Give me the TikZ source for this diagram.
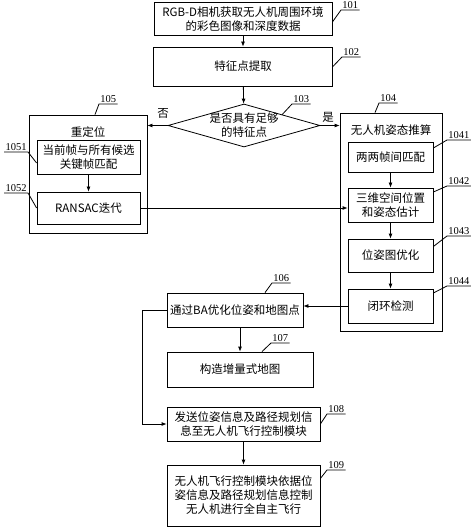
\documentclass[tikz,border=0pt]{standalone}
\usepackage{fontspec}
\setmainfont{Liberation Serif}
\newfontfamily\cjk{Noto Sans CJK SC}
\usetikzlibrary{shapes.geometric,arrows.meta}

\begin{document}
\begin{tikzpicture}[x = 1pt, y = -1pt, line width = 0.8pt,
    box/.style = {draw, inner sep = 0pt, align = center, font = \cjk\fontsize{11.5}{14}\selectfont},
    txt/.style = {inner sep = 0pt, align = center, font = \cjk\fontsize{11.5}{14}\selectfont},
    num/.style = {inner sep = 1pt, font = \fontsize{10.5}{12}\selectfont},
    > = {Latex[length = 5pt, width = 4pt]}]
    \useasboundingbox (0,0) rectangle (474,529);
    \node[box, minimum width = 178pt, minimum height = 33pt] (b101) at (243,19) {RGB-D相机获取无人机周围环境\\的彩色图像和深度数据};
    \node[box, minimum width = 179pt, minimum height = 39pt] (b102) at (243,66.5) {特征点提取};
    \node[diamond, draw, minimum width = 152pt, minimum height = 43pt, inner sep = 0pt,
        label = {[txt]center:是否具有足够\\的特征点}] (d103) at (244,125.5) {};
    \node[box, minimum width = 118pt, minimum height = 118pt] (b105) at (88,174) {};
    \node[txt] (t105) at (88,132) {重定位};
    \node[box, minimum width = 103pt, minimum height = 34pt] (b1051) at (88.5,157) {当前帧与所有候选\\关键帧匹配};
    \node[box, minimum width = 103pt, minimum height = 32pt] (b1052) at (88.5,208) {RANSAC迭代};
    \node[box, minimum width = 102pt, minimum height = 218pt] (b104) at (391,222) {};
    \node[txt] (t104) at (391,130) {无人机姿态推算};
    \node[box, minimum width = 85pt, minimum height = 30pt] (b1041) at (390.5,157) {两两帧间匹配};
    \node[box, minimum width = 85pt, minimum height = 34pt] (b1042) at (390.5,205) {三维空间位置\\和姿态估计};
    \node[box, minimum width = 85pt, minimum height = 33pt] (b1043) at (390.5,255.5) {位姿图优化};
    \node[box, minimum width = 85pt, minimum height = 34pt] (b1044) at (390.5,306) {闭环检测};
    \node[box, minimum width = 136pt, minimum height = 34pt] (b106) at (235,310) {通过BA优化位姿和地图点};
    \node[box, minimum width = 146pt, minimum height = 35pt] (b107) at (240,369.5) {构造增量式地图};
    \node[box, minimum width = 153pt, minimum height = 34pt] (b108) at (243.5,424) {发送位姿信息及路径规划信\\息至无人机飞行控制模块};
    \node[box, minimum width = 153pt, minimum height = 61pt] (b109) at (243.5,495.5) {无人机飞行控制模块依据位\\姿信息及路径规划信息控制\\无人机进行全自主飞行};
    \node[txt] (no) at (163,113) {否};
    \node[txt] (yes) at (328,117) {是};

    \node[num, anchor = south west] (n101) at (341,10) {101};
    \node[num, anchor = south west] (n102) at (342,57) {102};
    \node[num, anchor = south west] (n103) at (292,104) {103};
    \node[num, anchor = south west] (n104) at (379,103) {104};
    \node[num, anchor = south west] (n105) at (99,104) {105};
    \node[num, anchor = south east] (n1051) at (28,152) {1051};
    \node[num, anchor = south east] (n1052) at (28,193) {1052};
    \node[num, anchor = south west] (n1041) at (447,140) {1041};
    \node[num, anchor = south west] (n1042) at (447,186) {1042};
    \node[num, anchor = south west] (n1043) at (447,236) {1043};
    \node[num, anchor = south west] (n1044) at (447,286) {1044};
    \node[num, anchor = south west] (n106) at (272,283) {106};
    \node[num, anchor = south west] (n107) at (271,343) {107};
    \node[num, anchor = south west] (n108) at (327,414) {108};
    \node[num, anchor = south west] (n109) at (327,470) {109};

    \draw
        ([yshift = -3pt]b101.east) -- (n101.south west) -- (n101.south east)
        (b102.east) -- (n102.south west) -- (n102.south east)
        (d103.north east) -- (n103.south west) -- (n103.south east)
        ([xshift = -16pt]b104.north) -- (n104.south west) -- (n104.south east)
        ([xshift = 7pt]b105.north) -- (n105.south west) -- (n105.south east)
        ([yshift = -6pt]b1051.west) -- (n1051.south east) -- (n1051.south west)
        (b1052.west) -- (n1052.south east) -- (n1052.south west)
        ([yshift = 9pt]b1041.east) -- (n1041.south west) -- (n1041.south east)
        ([yshift = 13pt]b1042.east) -- (n1042.south west) -- (n1042.south east)
        ([yshift = 9pt]b1043.east) -- (n1043.south west) -- (n1043.south east)
        ([yshift = 13pt]b1044.east) -- (n1044.south west) -- (n1044.south east)
        ([xshift = 30pt]b106.north) -- (n106.south west) -- (n106.south east)
        ([xshift = 22pt]b107.north) -- (n107.south west) -- (n107.south east)
        (b108.east) -- (n108.south west) -- (n108.south east)
        ([yshift = 17pt]b109.east) -- (n109.south west) -- (n109.south east)
    ;
    \draw[->] (b101) -- (b102);
    \draw[->] (b102) -- (d103);
    \draw[->] (d103.west) -- (b105.east |- d103.west);
    \draw[->] (d103.east) -- (d103.east -| b104.west);
    \draw[->] (b1051) -- (b1052);
    \draw[->] (b1052.east) -- (b1052.east -| b1042.west);
    \draw[->] (b1041) -- (b1042);
    \draw[->] (b1042) -- (b1043);
    \draw[->] (b1043) -- (b1044);
    \draw[->] (b1044.west) -- (b1044.west -| b106.east);
    \draw[->] (b107.north |- b106.south) -- (b107.north);
    \draw[->] (b106.west) -- ++(-24,0) |- (b108.west);
    \draw[->] (b108) -- (b109);
\end{tikzpicture}
\end{document}
